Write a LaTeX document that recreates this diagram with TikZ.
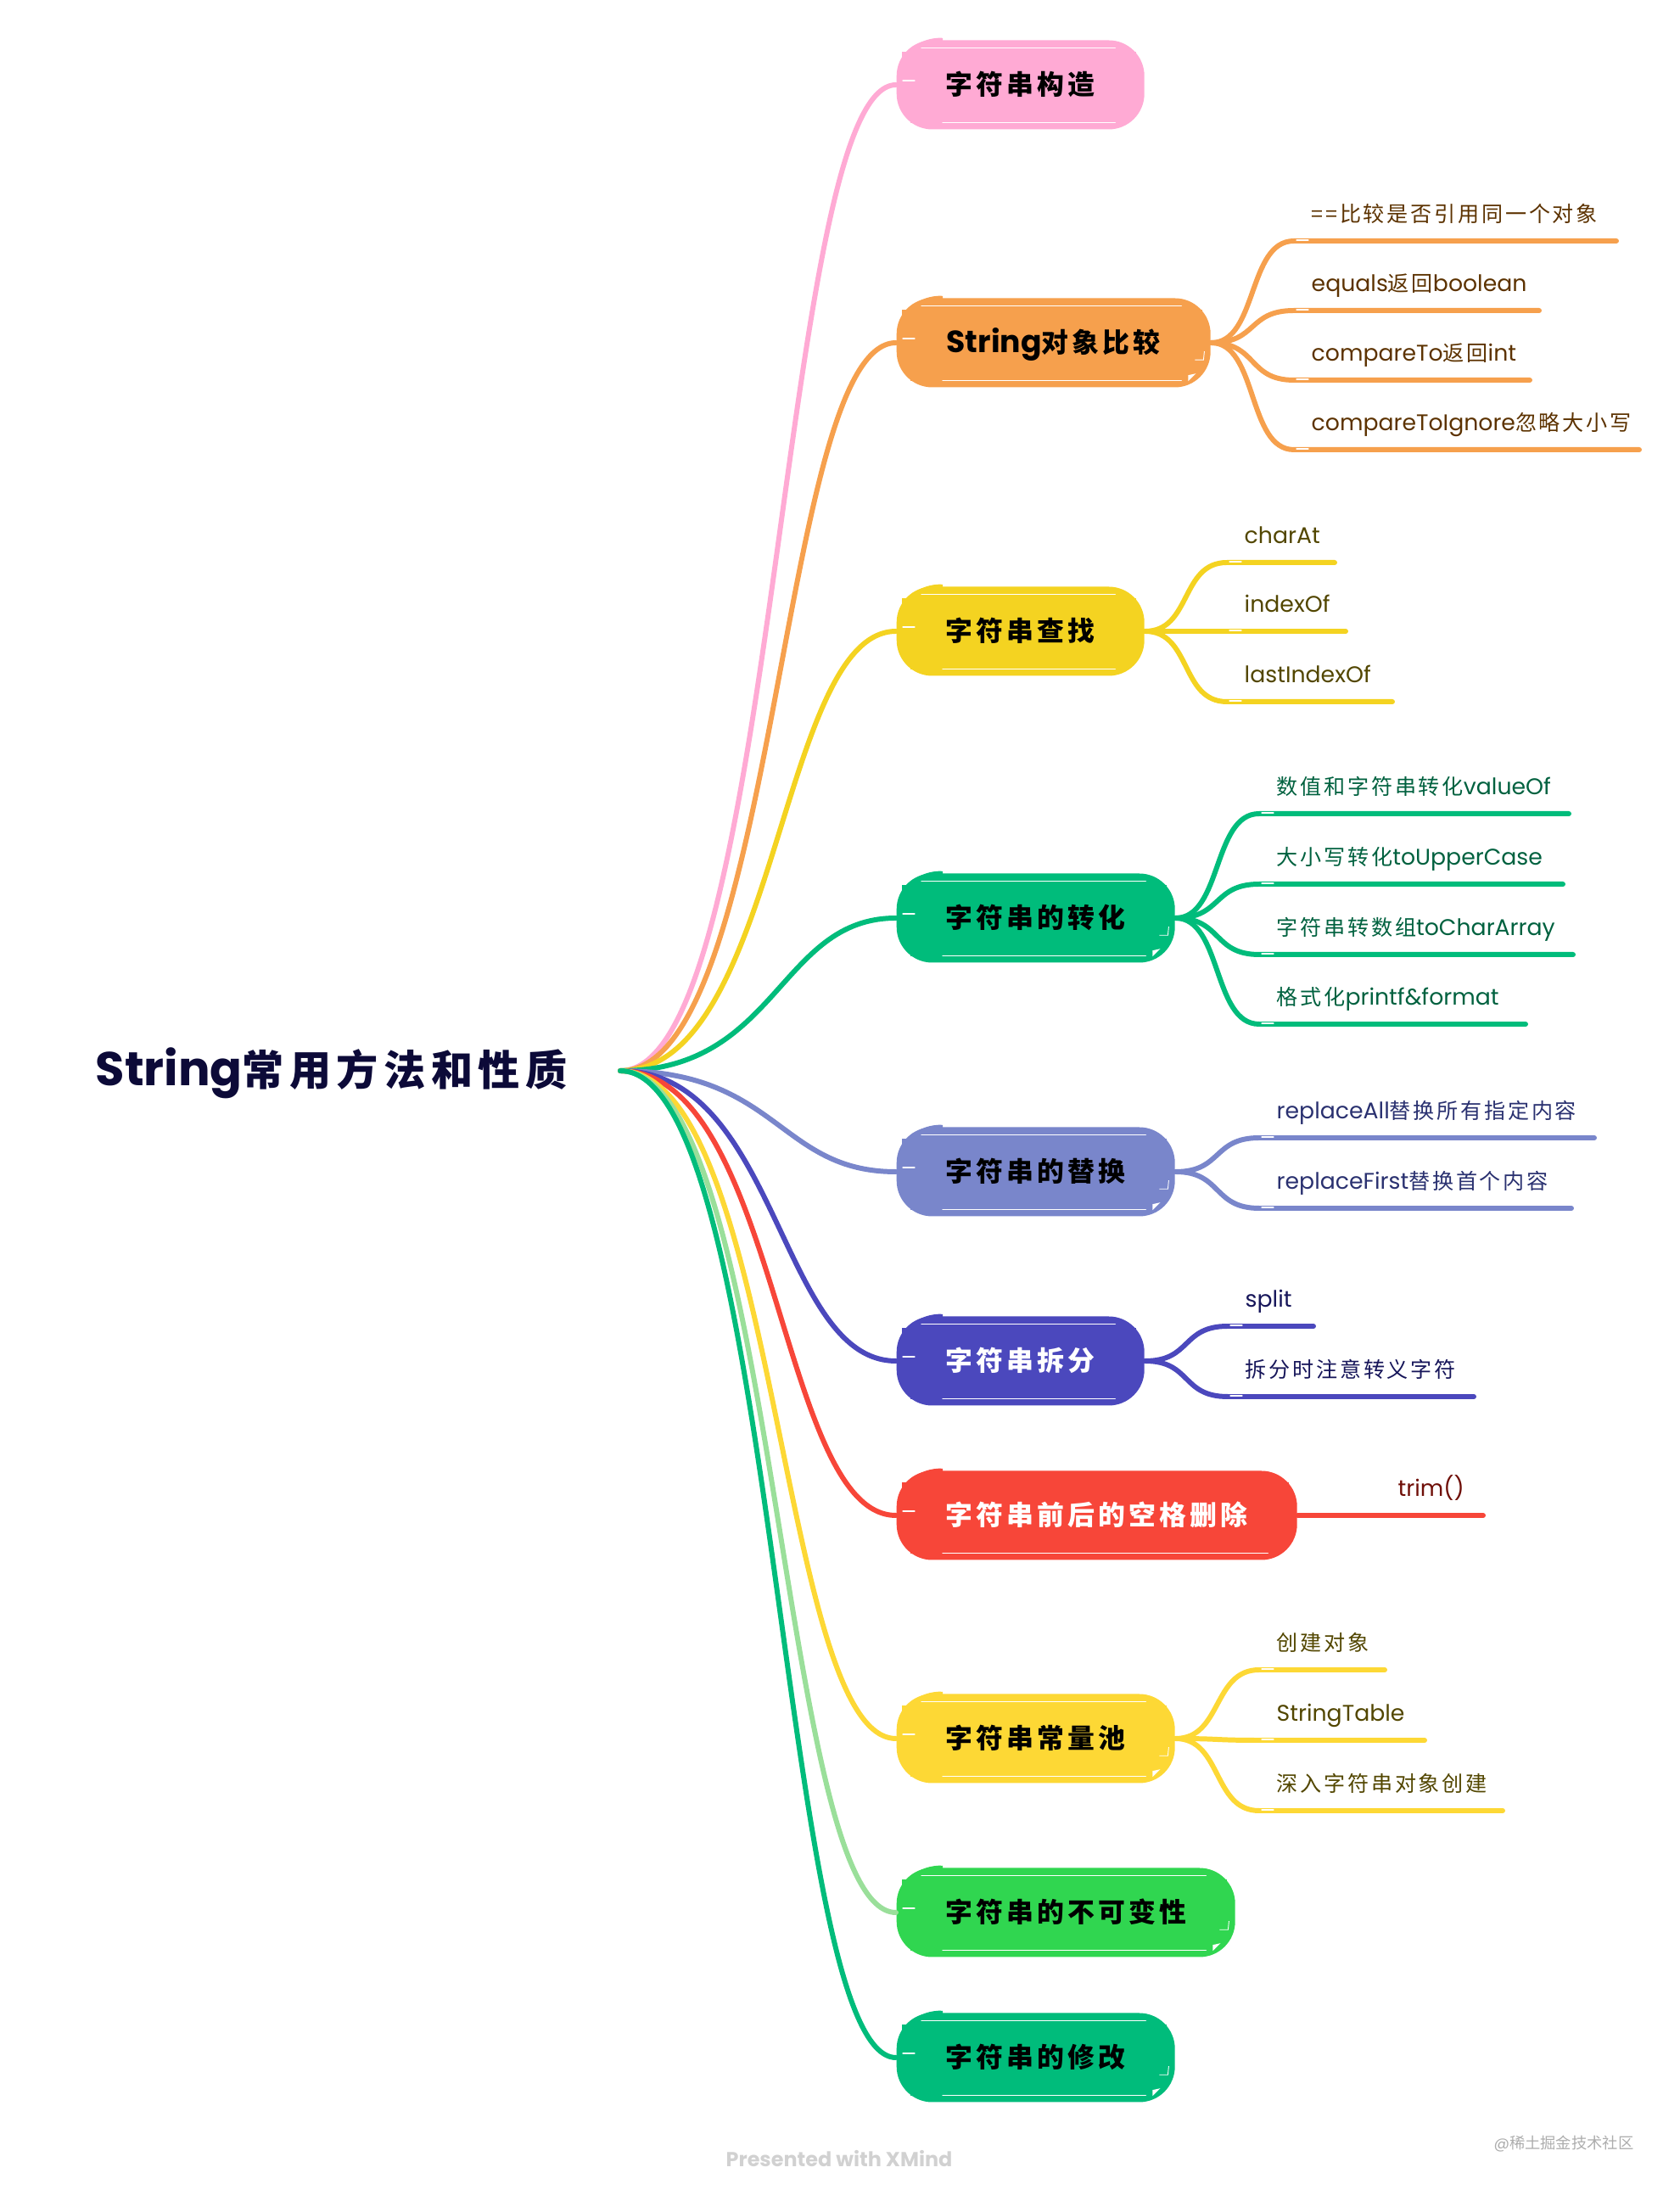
\documentclass[tikz,border=0pt]{standalone}
\usepackage{fontspec}
\setmainfont{Poppins}
\newfontfamily\cjktop[LetterSpace=13,Scale=0.88]{Noto Sans CJK SC}
\newfontfamily\cjkleaf[LetterSpace=11,Scale=0.94]{Noto Sans CJK SC}
\newfontfamily\cjkmark{Noto Sans CJK SC}
\usetikzlibrary{calc}
\definecolor{pinkb}{HTML}{FFAAD4}
\definecolor{orangeb}{HTML}{F6A04D}
\definecolor{yellowb}{HTML}{F4D321}
\definecolor{greenb}{HTML}{00BC7B}
\definecolor{blueb}{HTML}{7986CB}
\definecolor{indigob}{HTML}{4B48BD}
\definecolor{redb}{HTML}{F74639}
\definecolor{goldb}{HTML}{FDD835}
\definecolor{limeb}{HTML}{30D650}
\definecolor{limel}{HTML}{9ADF9A}
\definecolor{titlef}{HTML}{0C0A38}
\definecolor{orangef}{HTML}{5C3200}
\definecolor{yellowf}{HTML}{524600}
\definecolor{greenf}{HTML}{00613F}
\definecolor{bluef}{HTML}{2A3170}
\definecolor{indigof}{HTML}{17165A}
\definecolor{redf}{HTML}{6F0F08}
\def\zh#1{{\cjktop #1}}
\def\zl#1{{\cjkleaf #1}}
\tikzset{
  topic/.style={anchor=west, rounded corners=0.42cm, minimum height=1.05cm, inner sep=0pt,
    text height=7.6pt, text depth=1.2pt, font=\bfseries\fontsize{10.3}{12}\selectfont},
  limb/.style={line width=1.7pt, line cap=round},
  sliver/.style={white, line width=0.35pt, line cap=round},
  leaftext/.style={anchor=west, inner sep=0pt, text height=5.5pt, text depth=1.5pt,
    font=\fontsize{7.6}{9}\selectfont}
}
% #1 colour, #2 name, #3 y, #4 width
\def\topic[#1](#2)(#3:#4)#5{
	\node[topic, fill=#1, minimum width=#4cm] (#2) at (10.56, #3) {#5};
	\fill[#1] ($(#2.north west)+(0.07,-0.14)$) rectangle ++(0.25,-0.2);
	\fill[#1] ($(#2.north east)+(-0.1,-0.14)$) rectangle ++(-0.25,-0.2);
	\fill[#1] ($(#2.south west)+(0.17,0.08)$) rectangle ++(0.25,0.2);
	\fill[#1] ($(#2.north west)+(0.17,-0.12)$) .. controls +(0.08,0.1) and +(-0.12,0.01) .. ($(#2.north west)+(0.55,0.02)$) -- ++(0,-0.15) -- cycle;
	\draw[sliver] ($(#2.south west)+(0.55,0.09)$) -- ($(#2.south east)+(-0.35,0.09)$);
	\draw[sliver] ($(#2.west)+(0.08,0.05)$) -- ++(0.14,0);
}
% the long white stroke under the top edge
\def\topline(#1){
	\draw[sliver] ($(#1.north west)+(0.3,-0.1)$) -- ($(#1.north east)+(-0.35,-0.1)$);
}
% the white nick at the lower right
\def\nick(#1){
	\fill[white] ($(#1.south east)+(-0.27,0.15)$) -- ++(0.09,0.02) -- ++(-0.09,-0.09) -- cycle;
	\draw[white, line width=0.25pt] ($(#1.south east)+(-0.19,0.33)$) -- ++(0.1,0) -- ++(0.01,0.1);
}
% #1 colour, #2 text colour, #3 name, #4 parent, #5 line start x, #6 line end x, #7 line y
\def\leaf[#1,#2](#3)(#4)(#5:#6:#7)#8{
	\coordinate (#3s) at (#5, #7);
	\coordinate (#3e) at (#6, #7);
	\node[leaftext, text=#2] (#3) at ($(#3s)+(0.2,0.30)$) {#8};
	\draw[limb, #1] (#4.east) .. controls +(0.55,0) and +(-0.55,0) .. (#3s) -- (#3e);
	\draw[sliver] ($(#3s)+(0.03,0.01)$) -- ++(0.14,0);
}

\begin{document}
\begin{tikzpicture}
			%%%%% START %%%%%
			\useasboundingbox (0, 0) rectangle (19.8, 25.94);
			
			\node[anchor=west, inner sep=0pt, text=titlef, font=\bfseries\fontsize{15.9}{18}\selectfont] (title) at (1.12, 13.29) {String\zh{常用方法和性质}};
			\coordinate (root) at (7.31, 13.32);
			
			\topic[pinkb](gou)(24.94:2.92){\zh{字符串构造}}
			\topic[orangeb](bijiao)(21.90:3.70){String\zh{对象比较}}
			\topic[yellowb](chazhao)(18.50:2.92){\zh{字符串查找}}
			\topic[greenb](zhuanhua)(15.12:3.28){\zh{字符串的转化}}
			\topic[blueb](tihuan)(12.13:3.28){\zh{字符串的替换}}
			\topic[indigob](chaifen)(9.90:2.92){\textcolor{white}{\zh{字符串拆分}}}
			\topic[redb](shanchu)(8.08:4.72){\textcolor{white}{\zh{字符串前后的空格删除}}}
			\topic[goldb](changliang)(5.45:3.28){\zh{字符串常量池}}
			\topic[limeb](bukebian)(3.40:3.99){\zh{字符串的不可变性}}
			\topic[greenb](xiugai)(1.69:3.28){\zh{字符串的修改}}
			
			\topline(gou) \topline(bijiao) \topline(chazhao) \topline(zhuanhua) \topline(tihuan)
			\topline(chaifen) \topline(changliang) \topline(bukebian) \topline(xiugai)
			\nick(bijiao) \nick(zhuanhua) \nick(tihuan) \nick(changliang) \nick(bukebian) \nick(xiugai)
			
			\draw[limb, pinkb] (root) .. controls +(1.86,0) and +(-1.38,0) .. (gou.west);
			\draw[limb, orangeb] (root) .. controls +(1.86,0) and +(-1.38,0) .. (bijiao.west);
			\draw[limb, yellowb] (root) .. controls +(1.86,0) and +(-1.38,0) .. (chazhao.west);
			\draw[limb, greenb] (root) .. controls +(1.86,0) and +(-1.38,0) .. (zhuanhua.west);
			\draw[limb, blueb] (root) .. controls +(1.86,0) and +(-1.38,0) .. (tihuan.west);
			\draw[limb, indigob] (root) .. controls +(1.86,0) and +(-1.38,0) .. (chaifen.west);
			\draw[limb, redb] (root) .. controls +(1.86,0) and +(-1.38,0) .. (shanchu.west);
			\draw[limb, goldb] (root) .. controls +(1.86,0) and +(-1.38,0) .. (changliang.west);
			\draw[limb, limel] (root) .. controls +(1.86,0) and +(-1.38,0) .. (bukebian.west);
			\draw[limb, greenb] (root) .. controls +(1.86,0) and +(-1.38,0) .. (xiugai.west);
			
			\leaf[orangeb,orangef](eqa)(bijiao)(15.25:19.05:23.10){\zl{==比较是否引用同一个对象}}
			\leaf[orangeb,orangef](eqb)(bijiao)(15.25:18.14:22.28){equals\zl{返回}boolean}
			\leaf[orangeb,orangef](eqc)(bijiao)(15.25:18.03:21.46){compareTo\zl{返回}int}
			\leaf[orangeb,orangef](eqd)(bijiao)(15.25:19.32:20.64){compareToIgnore\zl{忽略大小写}}
			
			\leaf[yellowb,yellowf](fda)(chazhao)(14.46:15.73:19.31){charAt}
			\leaf[yellowb,yellowf](fdb)(chazhao)(14.46:15.86:18.50){indexOf}
			\leaf[yellowb,yellowf](fdc)(chazhao)(14.46:16.41:17.67){lastIndexOf}
			
			\leaf[greenb,greenf](zha)(zhuanhua)(14.84:18.49:16.35){\zl{数值和字符串转化}valueOf}
			\leaf[greenb,greenf](zhb)(zhuanhua)(14.84:18.42:15.52){\zl{大小写转化}toUpperCase}
			\leaf[greenb,greenf](zhc)(zhuanhua)(14.84:18.54:14.69){\zl{字符串转数组}toCharArray}
			\leaf[greenb,greenf](zhd)(zhuanhua)(14.84:17.98:13.87){\zl{格式化}printf\&format}
			
			\leaf[blueb,bluef](tha)(tihuan)(14.84:18.79:12.53){replaceAll\zl{替换所有指定内容}}
			\leaf[blueb,bluef](thb)(tihuan)(14.84:18.52:11.70){replaceFirst\zl{替换首个内容}}
			
			\leaf[indigob,indigof](cfa)(chaifen)(14.47:15.48:10.31){split}
			\leaf[indigob,indigof](cfb)(chaifen)(14.47:17.37:9.48){\zl{拆分时注意转义字符}}
			
			\coordinate (scae) at (17.48, 8.08);
			\node[leaftext, text=redf] (sca) at (16.47, 8.38) {trim()};
			\draw[limb, redb] (shanchu.east) -- (scae);
			
			\leaf[goldb,yellowf](cla)(changliang)(14.84:16.32:6.26){\zl{创建对象}}
			\leaf[goldb,yellowf](clb)(changliang)(14.84:16.79:5.43){StringTable}
			\leaf[goldb,yellowf](clc)(changliang)(14.84:17.71:4.60){\zl{深入字符串对象创建}}
			
			\node[inner sep=0pt, text=black!18, font=\bfseries\fontsize{6.8}{9}\selectfont] (xmind) at (9.89, 0.50) {Presented with XMind};
			\node[inner sep=0pt, text=black!32, font=\fontsize{5.2}{7}\selectfont] (juejin) at (18.43, 0.67) {@{\cjkmark 稀土掘金技术社区}};
			
			%%%%% END %%%%%
\end{tikzpicture}
\end{document}
